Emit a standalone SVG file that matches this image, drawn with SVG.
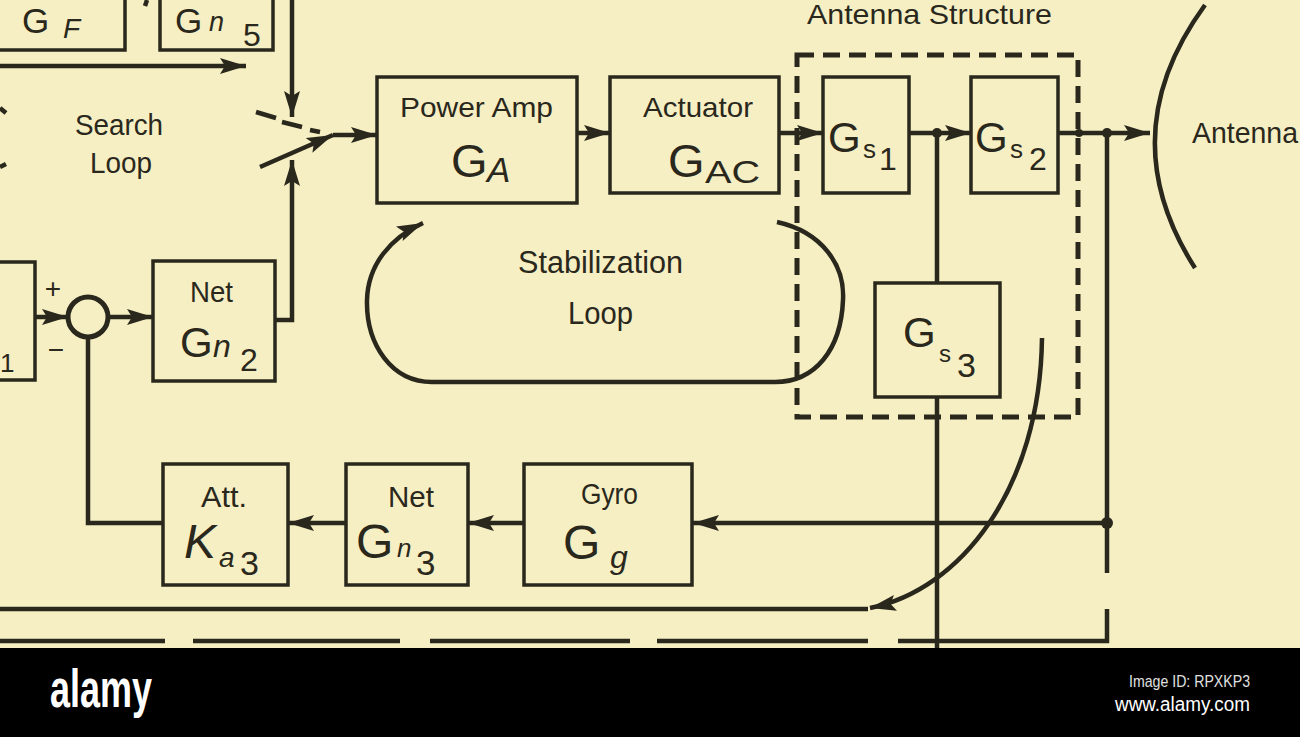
<svg xmlns="http://www.w3.org/2000/svg" width="1300" height="737" viewBox="0 0 1300 737">
<defs>
<style>
.bg{fill:#f6efc3}
.box{fill:none;stroke:#2a281c;stroke-width:3.5}
.ln{fill:none;stroke:#2a281c;stroke-width:4.5}
.dash{fill:none;stroke:#2a281c;stroke-width:5;stroke-dasharray:17 9}
.t{font-family:"Liberation Sans",Arial,sans-serif;fill:#2a281c}
.i{font-style:italic}
.dot{fill:#2a281c}
</style>
<marker id="ah" markerUnits="userSpaceOnUse" markerWidth="28" markerHeight="18" refX="26" refY="9" orient="auto">
<path d="M0,1 L26,9 L0,17 L5,9 z" fill="#2a281c"/>
</marker>
</defs>
<rect class="bg" x="0" y="0" width="1300" height="737"/>

<g id="connectors">
<path class="ln" d="M0,66 L246,66" marker-end="url(#ah)"/>
<path class="ln" d="M292,0 L292,117" marker-end="url(#ah)"/>
<path class="ln" d="M256,112 L276,118 M282,122 L302,127 M310,130 L320,132"/>
<path class="ln" d="M260,167 L333,135" marker-end="url(#ah)"/>
<path class="ln" d="M333,135 L377,135" marker-end="url(#ah)"/>
<path class="ln" d="M275,320 L292,320 L292,160" marker-end="url(#ah)"/>
<path class="ln" d="M35,317 L68,317" marker-end="url(#ah)"/>
<path class="ln" d="M107,317 L153,317" marker-end="url(#ah)"/>
<path class="ln" d="M88,337 L88,523 L163,523"/>
<path class="ln" d="M346,523 L288,523" marker-end="url(#ah)"/>
<path class="ln" d="M524,523 L468,523" marker-end="url(#ah)"/>
<path class="ln" d="M1107,523 L693,523" marker-end="url(#ah)"/>
<path class="ln" d="M577,133 L610,133" marker-end="url(#ah)"/>
<path class="ln" d="M779,133 L823,133" marker-end="url(#ah)"/>
<path class="ln" d="M909,133 L971,133" marker-end="url(#ah)"/>
<path class="ln" d="M1058,133 L1150,133" marker-end="url(#ah)"/>
<circle class="dot" cx="937" cy="133" r="5"/>
<circle class="dot" cx="1079" cy="133" r="4"/>
<circle class="dot" cx="1107" cy="133" r="5"/>
<circle class="dot" cx="1107" cy="523" r="6"/>
<path class="ln" d="M937,133 L937,283 M937,397 L937,650"/>
<path class="ln" d="M1107,133 L1107,573"/>
<path class="ln" d="M898,641 L1107,641 L1107,609"/>
<path class="ln" d="M0,641 L165,641 M193,641 L400,641 M430,641 L630,641 M657,641 L868,641"/>
<path class="ln" d="M1042,338 C1040,490 960,590 870,608" stroke-width="4" marker-end="url(#ah)"/>
<path class="ln" d="M868,609 L0,609"/>
<path class="ln" d="M777,222 C822,232 845,265 843,300 C841,350 815,382 775,382 L432,382 C392,382 366,345 367,300 C368,265 390,238 423,223" marker-end="url(#ah)"/>
<path class="ln" d="M0,108 L6,113 M0,167 L6,164 M147,0 L145,6" stroke-width="3.5"/>
</g>

<g id="antenna-structure">
<rect class="dash" x="797" y="55" width="281" height="362"/>
<text class="t" x="807" y="24" font-size="28" textLength="245" lengthAdjust="spacingAndGlyphs">Antenna Structure</text>
</g>

<g id="antenna">
<path class="ln" d="M1205,5 Q1110,135 1195,268" stroke-width="4"/>
<text class="t" x="1192" y="143" font-size="29" textLength="106" lengthAdjust="spacingAndGlyphs">Antenna</text>
</g>

<g id="search-loop">
<text class="t" x="75" y="135" font-size="30" textLength="88" lengthAdjust="spacingAndGlyphs">Search</text>
<text class="t" x="90" y="173" font-size="30" textLength="62" lengthAdjust="spacingAndGlyphs">Loop</text>
</g>

<g id="stabilization-loop">
<text class="t" x="518" y="273" font-size="31" textLength="165" lengthAdjust="spacingAndGlyphs">Stabilization</text>
<text class="t" x="568" y="324" font-size="31" textLength="65" lengthAdjust="spacingAndGlyphs">Loop</text>
</g>

<g id="node-GF">
<rect class="box" x="-10" y="-10" width="135" height="60"/>
<text class="t" x="22" y="33" font-size="35">G</text>
<text class="t i" x="63" y="38" font-size="28">F</text>
</g>

<g id="node-Gn5">
<rect class="box" x="160" y="-10" width="113" height="60"/>
<text class="t" x="175" y="33" font-size="35">G</text>
<text class="t i" x="209" y="31" font-size="27">n</text>
<text class="t" x="243" y="46" font-size="32">5</text>
</g>

<g id="node-Gn1">
<rect class="box" x="-10" y="262" width="45" height="118"/>
<text class="t" x="0" y="372" font-size="26">1</text>
</g>

<g id="node-sum">
<circle cx="88" cy="317" r="20" fill="none" stroke="#2a281c" stroke-width="5"/>
<text class="t" x="53" y="298" font-size="28" text-anchor="middle">+</text>
<text class="t" x="56" y="359" font-size="28" text-anchor="middle">−</text>
</g>

<g id="node-Gn2">
<rect class="box" x="153" y="261" width="122" height="120"/>
<text class="t" x="190" y="302" font-size="30" textLength="43" lengthAdjust="spacingAndGlyphs">Net</text>
<text class="t" x="180" y="357" font-size="42">G</text>
<text class="t i" x="213" y="357" font-size="32">n</text>
<text class="t" x="240" y="371" font-size="32">2</text>
</g>

<g id="node-power-amp">
<rect class="box" x="377" y="77" width="200" height="126"/>
<text class="t" x="400" y="117" font-size="28" textLength="153" lengthAdjust="spacingAndGlyphs">Power Amp</text>
<text class="t" x="451" y="177" font-size="47">G</text>
<text class="t i" x="487" y="182" font-size="35">A</text>
</g>

<g id="node-actuator">
<rect class="box" x="610" y="77" width="169" height="116"/>
<text class="t" x="643" y="117" font-size="28" textLength="110" lengthAdjust="spacingAndGlyphs">Actuator</text>
<text class="t" x="668" y="177" font-size="47">G</text>
<text class="t" x="705" y="183" font-size="32" textLength="55" lengthAdjust="spacingAndGlyphs">AC</text>
</g>

<g id="node-Gs1">
<rect class="box" x="823" y="77" width="86" height="116"/>
<text class="t" x="828" y="152" font-size="42">G</text>
<text class="t" x="863" y="158" font-size="26">s</text>
<text class="t" x="879" y="170" font-size="32">1</text>
</g>

<g id="node-Gs2">
<rect class="box" x="971" y="77" width="87" height="116"/>
<text class="t" x="975" y="152" font-size="42">G</text>
<text class="t" x="1010" y="158" font-size="26">s</text>
<text class="t" x="1029" y="170" font-size="32">2</text>
</g>

<g id="node-Gs3">
<rect class="box" x="875" y="283" width="125" height="114"/>
<text class="t" x="903" y="347" font-size="42">G</text>
<text class="t" x="939" y="362" font-size="24">s</text>
<text class="t" x="957" y="377" font-size="34">3</text>
</g>

<g id="node-att">
<rect class="box" x="163" y="464" width="125" height="121"/>
<text class="t" x="201" y="507" font-size="29" textLength="46" lengthAdjust="spacingAndGlyphs">Att.</text>
<text class="t i" x="184" y="558" font-size="48">K</text>
<text class="t i" x="219" y="567" font-size="28">a</text>
<text class="t" x="240" y="575" font-size="34">3</text>
</g>

<g id="node-Gn3">
<rect class="box" x="346" y="464" width="122" height="121"/>
<text class="t" x="388" y="507" font-size="29" textLength="46" lengthAdjust="spacingAndGlyphs">Net</text>
<text class="t" x="356" y="558" font-size="48">G</text>
<text class="t i" x="397" y="557" font-size="26">n</text>
<text class="t" x="416" y="575" font-size="35">3</text>
</g>

<g id="node-gyro">
<rect class="box" x="524" y="464" width="168" height="121"/>
<text class="t" x="581" y="504" font-size="29" textLength="57" lengthAdjust="spacingAndGlyphs">Gyro</text>
<text class="t" x="563" y="559" font-size="48">G</text>
<text class="t i" x="610" y="568" font-size="32">g</text>
</g>

<g id="footer">
<rect x="0" y="648" width="1300" height="89" fill="#000"/>
<text x="50" y="707" font-family="Liberation Sans, Arial, sans-serif" font-weight="bold" font-size="54" fill="#fff" textLength="102" lengthAdjust="spacingAndGlyphs">alamy</text>
<text x="1129" y="687" font-family="Liberation Sans, Arial, sans-serif" font-size="17" fill="#e0e0e0" textLength="121" lengthAdjust="spacingAndGlyphs">Image ID: RPXKP3</text>
<text x="1115" y="711" font-family="Liberation Sans, Arial, sans-serif" font-size="20" fill="#fff" textLength="135" lengthAdjust="spacingAndGlyphs">www.alamy.com</text>
</g>
</svg>
